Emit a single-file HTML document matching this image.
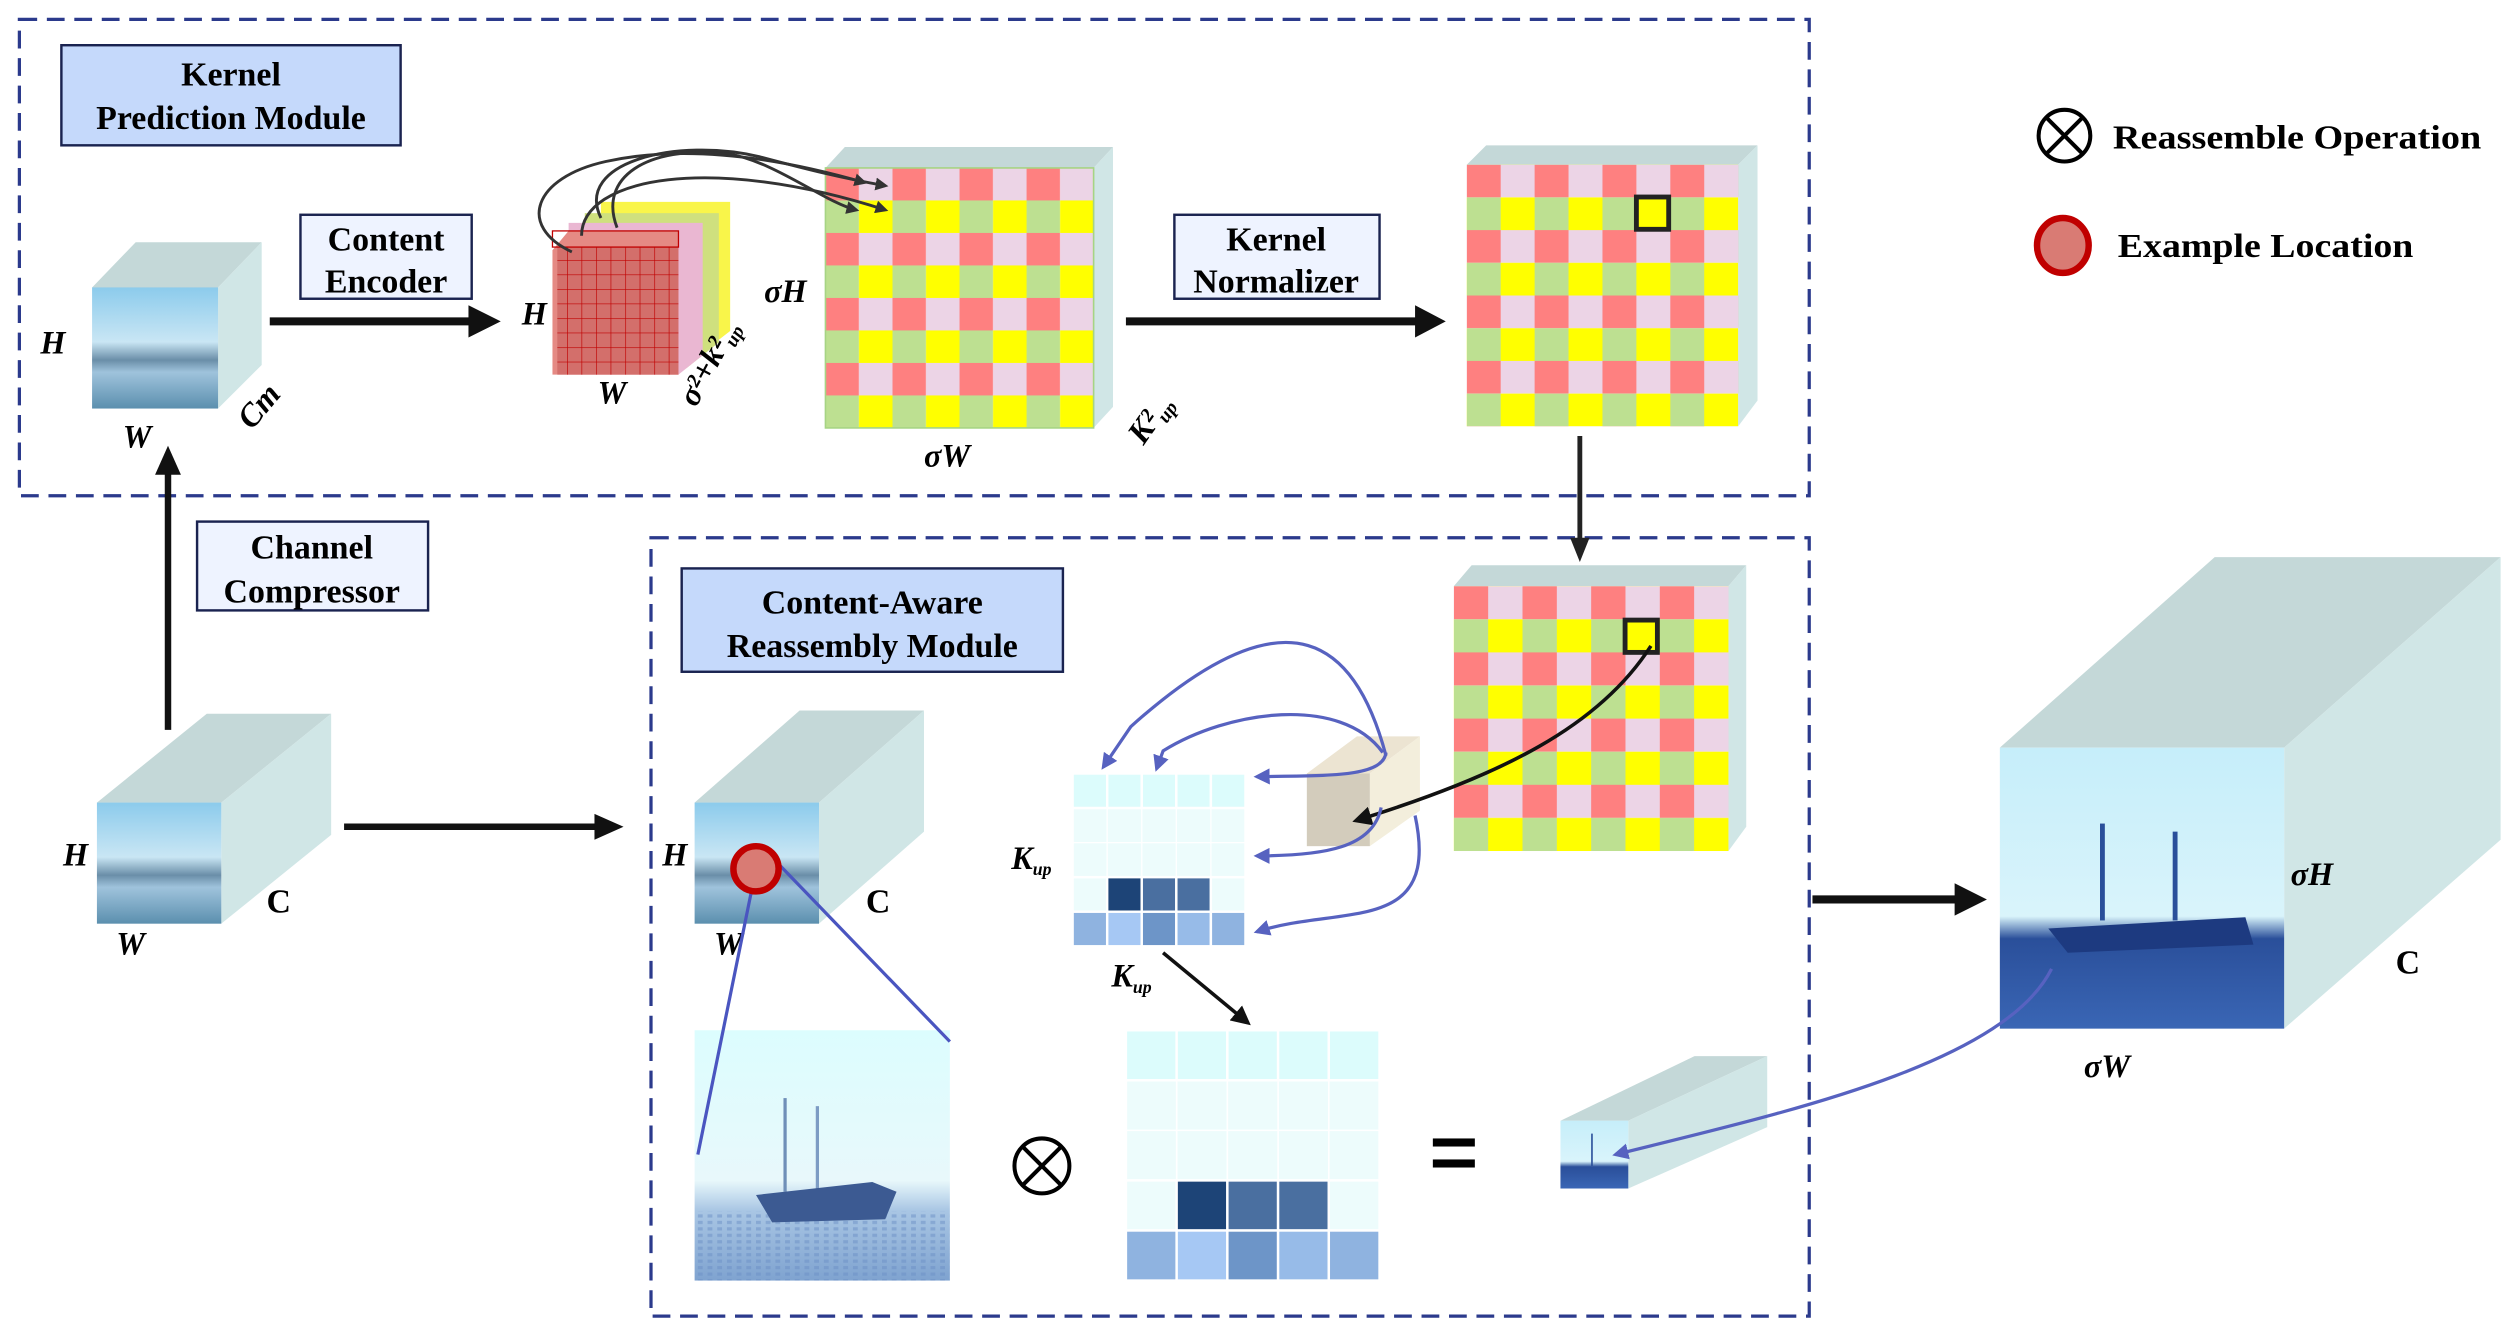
<!DOCTYPE html>
<html><head><meta charset="utf-8"><style>
html,body{margin:0;padding:0;background:#fff;}
svg{display:block;}
text{font-family:"Liberation Serif",serif;font-weight:bold;fill:#000;}
.lab{font-size:21px;}
.it{font-style:italic;font-size:20px;}
</style></head><body>
<svg width="2520" height="1329" viewBox="0 0 1560 823" preserveAspectRatio="none" xmlns="http://www.w3.org/2000/svg">
<defs>
<pattern id="c1" x="511" y="104" width="41.5" height="40.25" patternUnits="userSpaceOnUse">
<rect x="0" y="0" width="20.75" height="20.125" fill="#fe8080"/><rect x="20.75" y="0" width="20.75" height="20.125" fill="#ecd4e6"/>
<rect x="0" y="20.125" width="20.75" height="20.125" fill="#bde091"/><rect x="20.75" y="20.125" width="20.75" height="20.125" fill="#ffff00"/></pattern>
<pattern id="c2" x="908" y="102" width="42" height="40.5" patternUnits="userSpaceOnUse">
<rect x="0" y="0" width="21" height="20.25" fill="#fe8080"/><rect x="21" y="0" width="21" height="20.25" fill="#ecd4e6"/>
<rect x="0" y="20.25" width="21" height="20.25" fill="#bde091"/><rect x="21" y="20.25" width="21" height="20.25" fill="#ffff00"/></pattern>
<pattern id="c3" x="900" y="363" width="42.5" height="41" patternUnits="userSpaceOnUse">
<rect x="0" y="0" width="21.25" height="20.5" fill="#fe8080"/><rect x="21.25" y="0" width="21.25" height="20.5" fill="#ecd4e6"/>
<rect x="0" y="20.5" width="21.25" height="20.5" fill="#bde091"/><rect x="21.25" y="20.5" width="21.25" height="20.5" fill="#ffff00"/></pattern>
<pattern id="rg" x="342" y="143" width="9" height="9" patternUnits="userSpaceOnUse">
<path d="M0 0H9M0 0V9" stroke="#c00000" stroke-width="0.8" fill="none"/></pattern>
<pattern id="wav" x="0" y="0" width="6" height="4" patternUnits="userSpaceOnUse">
<rect width="6" height="4" fill="none"/><rect x="0" y="0" width="3" height="2" fill="#6c8fc6" opacity="0.5"/></pattern>
<linearGradient id="photo" x1="0" y1="0" x2="0" y2="1">
<stop offset="0" stop-color="#8ccbec"/><stop offset="0.45" stop-color="#c9e6f4"/><stop offset="0.6" stop-color="#6a8ea8"/><stop offset="0.7" stop-color="#9fc3dc"/><stop offset="1" stop-color="#5b8fae"/></linearGradient>
<linearGradient id="ship" x1="0" y1="0" x2="0" y2="1">
<stop offset="0" stop-color="#dcfdfe"/><stop offset="0.6" stop-color="#e8f8fb"/><stop offset="0.72" stop-color="#a9c6e4"/><stop offset="1" stop-color="#7fa3d0"/></linearGradient>
<linearGradient id="ship2" x1="0" y1="0" x2="0" y2="1">
<stop offset="0" stop-color="#c6eefa"/><stop offset="0.6" stop-color="#d9f4fb"/><stop offset="0.68" stop-color="#2a4f9a"/><stop offset="1" stop-color="#3a66b5"/></linearGradient>
<marker id="ah" markerWidth="8" markerHeight="8" refX="6" refY="4" orient="auto" markerUnits="userSpaceOnUse"><path d="M0 0L8 4L0 8Z" fill="#333"/></marker>
<marker id="ahb" markerWidth="10" markerHeight="10" refX="8" refY="5" orient="auto" markerUnits="userSpaceOnUse"><path d="M0 0L10 5L0 10Z" fill="#5762c0"/></marker>
<marker id="ahk" markerWidth="12" markerHeight="12" refX="9" refY="6" orient="auto" markerUnits="userSpaceOnUse"><path d="M0 0L12 6L0 12Z" fill="#111"/></marker>
</defs>

<rect x="12" y="12" width="1108" height="295" fill="none" stroke="#2b3a8c" stroke-width="2" stroke-dasharray="11,6"/>
<rect x="403" y="333" width="717" height="482" fill="none" stroke="#2b3a8c" stroke-width="2" stroke-dasharray="11,6"/>

<rect x="38" y="28" width="210" height="62" fill="#c5d9fb" stroke="#1a2350" stroke-width="1.5"/>
<text class="lab" x="143" y="53" text-anchor="middle">Kernel</text>
<text class="lab" x="143" y="80" text-anchor="middle">Prediction Module</text>
<rect x="186" y="133" width="106" height="52" fill="#eef3ff" stroke="#1a2350" stroke-width="1.5"/>
<text class="lab" x="239" y="155" text-anchor="middle">Content</text>
<text class="lab" x="239" y="181" text-anchor="middle">Encoder</text>
<rect x="727" y="133" width="127" height="52" fill="#eef3ff" stroke="#1a2350" stroke-width="1.5"/>
<text class="lab" x="790" y="155" text-anchor="middle">Kernel</text>
<text class="lab" x="790" y="181" text-anchor="middle">Normalizer</text>
<rect x="122" y="323" width="143" height="55" fill="#eef3ff" stroke="#1a2350" stroke-width="1.5"/>
<text class="lab" x="193" y="346" text-anchor="middle">Channel</text>
<text class="lab" x="193" y="373" text-anchor="middle">Compressor</text>
<rect x="422" y="352" width="236" height="64" fill="#c5d9fb" stroke="#1a2350" stroke-width="1.5"/>
<text class="lab" x="540" y="380" text-anchor="middle">Content-Aware</text>
<text class="lab" x="540" y="407" text-anchor="middle">Reassembly Module</text>

<circle cx="1278" cy="84" r="16" fill="none" stroke="#000" stroke-width="2.5"/>
<path d="M1267 73L1289 95M1289 73L1267 95" stroke="#000" stroke-width="2.5"/>
<text class="lab" x="1308" y="92" textLength="228" lengthAdjust="spacingAndGlyphs">Reassemble Operation</text>
<ellipse cx="1277" cy="152" rx="16" ry="17" fill="#d97b74" stroke="#c00000" stroke-width="4"/>
<text class="lab" x="1311" y="159" textLength="183" lengthAdjust="spacingAndGlyphs">Example Location</text>

<polygon points="57,178 84,150 162,150 135,178" fill="#c4d8d8"/>
<polygon points="135,178 162,150 162,226 135,253" fill="#d0e6e6"/>
<rect x="57" y="178" width="78" height="75" fill="url(#photo)"/>
<text class="it" x="25" y="219">H</text>
<text class="it" x="76" y="277">W</text>
<text class="it" x="150" y="262" font-size="14" transform="rotate(-50 158 258)">Cm</text>
<line x1="167" y1="199" x2="292" y2="199" stroke="#111" stroke-width="5"/>
<polygon points="290,189 310,199 290,209" fill="#111"/>
<line x1="104" y1="452" x2="104" y2="292" stroke="#111" stroke-width="4"/>
<polygon points="96,294 104,276 112,294" fill="#111"/>

<polygon points="372,125 452,125 452,205 430,222 372,222" fill="#f9f54a"/>
<polygon points="362,132 445,132 445,212 425,228 362,228" fill="#cfe07e"/>
<polygon points="352,138 435,138 435,220 420,232 352,232" fill="#eab7d2"/>
<polygon points="342,155 352,143 420,143 420,232 342,232" fill="#e58a84"/>
<rect x="345" y="153" width="75" height="79" fill="#d36f6b"/>
<rect x="345" y="153" width="75" height="79" fill="url(#rg)"/>
<rect x="342" y="143" width="78" height="10" fill="none" stroke="#c00000" stroke-width="0.8"/>
<text class="it" x="323" y="201" font-size="17">H</text>
<text class="it" x="370" y="250" font-size="17">W</text>
<text class="it" x="428" y="252" font-size="20" transform="rotate(-62 430 250)">σ²+k²<tspan font-size="12" dy="4">up</tspan></text>

<polygon points="511,104 523,91 689,91 677,104" fill="#c4d8d8"/>
<polygon points="677,104 689,91 689,252 677,265" fill="#d0e6e6"/>
<rect x="511" y="104" width="166" height="161" fill="url(#c1)" stroke="#a7d484" stroke-width="1"/>
<g fill="none" stroke="#333" stroke-width="1.8">
<path d="M354 156C320 140 330 110 375 100C430 88 490 100 535 113" marker-end="url(#ah)"/>
<path d="M360 146C360 110 440 95 548 130" marker-end="url(#ah)"/>
<path d="M382 141C370 110 400 90 450 95C480 100 510 125 530 130" marker-end="url(#ah)"/>
<path d="M372 135C355 100 420 85 470 97C500 105 520 110 548 115" marker-end="url(#ah)"/>
</g>
<text class="it" x="473" y="187" font-size="21">σH</text>
<text class="it" x="572" y="289" font-size="21">σW</text>
<text class="it" x="700" y="275" font-size="21" transform="rotate(-55 705 268)">K²<tspan font-size="12" dy="4">up</tspan></text>
<line x1="697" y1="199" x2="878" y2="199" stroke="#111" stroke-width="5"/>
<polygon points="876,189 895,199 876,209" fill="#111"/>

<polygon points="908,102 920,90 1088,90 1076,102" fill="#c4d8d8"/>
<polygon points="1076,102 1088,90 1088,248 1076,264" fill="#d0e6e6"/>
<rect x="908" y="102" width="168" height="162" fill="url(#c2)"/>
<rect x="1013" y="122" width="20" height="20" fill="#ffff00" stroke="#222" stroke-width="3"/>
<line x1="978" y1="270" x2="978" y2="335" stroke="#222" stroke-width="3"/>
<polygon points="972,333 978,348 984,333" fill="#222"/>

<polygon points="900,363 911,350 1081,350 1070,363" fill="#c4d8d8"/>
<polygon points="1070,363 1081,350 1081,512 1070,527" fill="#d0e6e6"/>
<rect x="900" y="363" width="170" height="164" fill="url(#c3)"/>
<rect x="1006" y="384" width="20" height="20" fill="#ffff00" stroke="#222" stroke-width="3"/>

<polygon points="809,479 840,456 879,456 848,479" fill="#ece4d2"/>
<polygon points="848,479 879,456 879,502 848,524" fill="#f3eedc"/>
<rect x="809" y="479" width="39" height="45" fill="#d3ccbc"/>
<path d="M1022 400C990 450 930 480 840 508" fill="none" stroke="#111" stroke-width="2.2" marker-end="url(#ahk)"/>

<g stroke="#fff" stroke-width="1.5">
<rect x="664" y="479" width="21.4" height="21.4" fill="#dcfcfc"/><rect x="685.4" y="479" width="21.4" height="21.4" fill="#dcfcfc"/><rect x="706.8" y="479" width="21.4" height="21.4" fill="#dcfcfc"/><rect x="728.2" y="479" width="21.4" height="21.4" fill="#dcfcfc"/><rect x="749.6" y="479" width="21.4" height="21.4" fill="#dcfcfc"/>
<rect x="664" y="500.4" width="107" height="42.8" fill="#edfcfc"/>
<rect x="664" y="543.2" width="21.4" height="21.4" fill="#edfcfc"/><rect x="685.4" y="543.2" width="21.4" height="21.4" fill="#1d4477"/><rect x="706.8" y="543.2" width="21.4" height="21.4" fill="#4a6fa0"/><rect x="728.2" y="543.2" width="21.4" height="21.4" fill="#4a6fa0"/><rect x="749.6" y="543.2" width="21.4" height="21.4" fill="#edfcfc"/>
<rect x="664" y="564.6" width="21.4" height="21.4" fill="#8fb3e0"/><rect x="685.4" y="564.6" width="21.4" height="21.4" fill="#a6c8f4"/><rect x="706.8" y="564.6" width="21.4" height="21.4" fill="#6d95c8"/><rect x="728.2" y="564.6" width="21.4" height="21.4" fill="#97bbe8"/><rect x="749.6" y="564.6" width="21.4" height="21.4" fill="#8fb3e0"/>
</g>
<g stroke="#fff" stroke-width="0.8"><path d="M685.4 500V543M706.8 500V543M728.2 500V543M749.6 500V543M664 521.8H771" fill="none"/></g>
<text class="it" x="626" y="538" font-size="19">K<tspan font-size="11" dy="4">up</tspan></text>
<text class="it" x="688" y="611" font-size="19">K<tspan font-size="11" dy="4">up</tspan></text>
<g fill="none" stroke="#5762c0" stroke-width="2">
<path d="M858 468C840 400 800 360 700 450L683 475" marker-end="url(#ahb)"/>
<path d="M856 466C830 430 760 440 720 465L716 476" marker-end="url(#ahb)"/>
<path d="M858 466C856 482 820 480 778 481" marker-end="url(#ahb)"/>
<path d="M855 500C850 525 820 530 778 530" marker-end="url(#ahb)"/>
<path d="M876 505C892 580 830 560 778 577" marker-end="url(#ahb)"/>
</g>
<line x1="720" y1="590" x2="772" y2="633" stroke="#111" stroke-width="2.2" marker-end="url(#ahk)"/>

<g stroke="#fff" stroke-width="1.5">
<rect x="697" y="638" width="31.4" height="31" fill="#dcfcfc"/><rect x="728.4" y="638" width="31.4" height="31" fill="#dcfcfc"/><rect x="759.8" y="638" width="31.4" height="31" fill="#dcfcfc"/><rect x="791.2" y="638" width="31.4" height="31" fill="#dcfcfc"/><rect x="822.6" y="638" width="31.4" height="31" fill="#dcfcfc"/>
<rect x="697" y="669" width="157" height="62" fill="#edfcfc"/>
<rect x="697" y="731" width="31.4" height="31" fill="#edfcfc"/><rect x="728.4" y="731" width="31.4" height="31" fill="#1d4477"/><rect x="759.8" y="731" width="31.4" height="31" fill="#4a6fa0"/><rect x="791.2" y="731" width="31.4" height="31" fill="#4a6fa0"/><rect x="822.6" y="731" width="31.4" height="31" fill="#edfcfc"/>
<rect x="697" y="762" width="31.4" height="31" fill="#8fb3e0"/><rect x="728.4" y="762" width="31.4" height="31" fill="#a6c8f4"/><rect x="759.8" y="762" width="31.4" height="31" fill="#6d95c8"/><rect x="791.2" y="762" width="31.4" height="31" fill="#97bbe8"/><rect x="822.6" y="762" width="31.4" height="31" fill="#8fb3e0"/>
</g>
<g stroke="#fff" stroke-width="1"><path d="M728.4 669V731M759.8 669V731M791.2 669V731M822.6 669V731M697 700H854" fill="none"/></g>

<polygon points="60,497 128,442 205,442 137,497" fill="#c4d8d8"/>
<polygon points="137,497 205,442 205,517 137,572" fill="#d0e6e6"/>
<rect x="60" y="497" width="77" height="75" fill="url(#photo)"/>
<text class="it" x="39" y="536">H</text>
<text class="it" x="72" y="591">W</text>
<text class="lab" x="165" y="565" font-size="20">C</text>
<line x1="213" y1="512" x2="370" y2="512" stroke="#111" stroke-width="4"/>
<polygon points="368,504 386,512 368,520" fill="#111"/>

<polygon points="430,497 495,440 572,440 507,497" fill="#c4d8d8"/>
<polygon points="507,497 572,440 572,515 507,572" fill="#d0e6e6"/>
<rect x="430" y="497" width="77" height="75" fill="url(#photo)"/>
<text class="it" x="410" y="536">H</text>
<text class="it" x="442" y="591">W</text>
<text class="lab" x="536" y="565" font-size="20">C</text>

<rect x="430" y="638" width="158" height="155" fill="url(#ship)"/>
<rect x="430" y="750" width="158" height="43" fill="url(#wav)"/>
<rect x="485" y="680" width="2" height="58" fill="#6f8fb8"/><rect x="505" y="685" width="2" height="52" fill="#7d9cc4"/>
<polygon points="468,740 540,732 555,738 548,755 478,757" fill="#3c5a92"/>
<line x1="468" y1="538" x2="432" y2="715" stroke="#4a55c0" stroke-width="2"/>
<line x1="480" y1="533" x2="588" y2="645" stroke="#4a55c0" stroke-width="2"/>
<ellipse cx="468" cy="538" rx="14" ry="14" fill="#d97b74" stroke="#c00000" stroke-width="4"/>

<circle cx="645" cy="722" r="17" fill="none" stroke="#000" stroke-width="2.5"/>
<path d="M633 710L657 734M657 710L633 734" stroke="#000" stroke-width="2.5"/>
<rect x="887" y="705" width="26" height="5" fill="#000"/><rect x="887" y="718" width="26" height="5" fill="#000"/>

<polygon points="966,694 1049,654 1094,654 1008,694" fill="#c4d8d8"/>
<polygon points="1008,694 1094,654 1094,698 1008,736" fill="#d0e6e6"/>
<rect x="966" y="694" width="42" height="42" fill="url(#ship2)"/>
<rect x="985" y="702" width="1" height="20" fill="#2a4f9a"/>

<line x1="1122" y1="557" x2="1212" y2="557" stroke="#111" stroke-width="5"/>
<polygon points="1210,547 1230,557 1210,567" fill="#111"/>

<polygon points="1238,463 1371,345 1548,345 1414,463" fill="#c4d8d8"/>
<polygon points="1414,463 1548,345 1548,520 1414,637" fill="#d0e6e6"/>
<rect x="1238" y="463" width="176" height="174" fill="url(#ship2)"/>
<rect x="1300" y="510" width="3" height="60" fill="#2a4f9a"/><rect x="1345" y="515" width="3" height="55" fill="#2a4f9a"/>
<polygon points="1268,575 1390,568 1395,585 1280,590" fill="#1d3a80"/>
<text class="it" x="1418" y="548" font-size="21">σH</text>
<text class="lab" x="1483" y="603" font-size="20">C</text>
<text class="it" x="1290" y="667" font-size="21">σW</text>
<path d="M1270 600C1240 660 1100 690 1000 715" fill="none" stroke="#5762c0" stroke-width="2" marker-end="url(#ahb)"/>
</svg>
</body></html>
